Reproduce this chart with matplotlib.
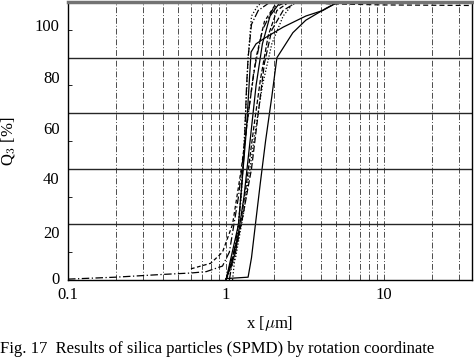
import matplotlib
matplotlib.use("Agg")
import matplotlib.pyplot as plt
import numpy as np

plt.rcParams["font.family"] = ["Liberation Serif", "DejaVu Serif"]
plt.rcParams["mathtext.fontset"] = "cm"

# particle size x [um] and cumulative Q3 [%] for each measured sample
x1 = [1.0, 1.15, 1.3, 1.42, 1.55, 1.7, 1.9, 2.2]
q1 = [0, 10, 30, 50, 70, 85, 95, 100]
x2 = [1.0, 1.2, 1.35, 1.5, 1.65, 1.85, 2.1, 2.5]
q2 = [0, 15, 35, 55, 72, 88, 97, 100]
x3 = [1.05, 1.2, 1.3, 1.35, 1.38, 1.45, 1.6, 1.9]
q3 = [0, 20, 45, 70, 80, 92, 97, 100]
x4 = [1.1, 1.25, 1.33, 1.38, 1.45, 1.6, 1.8]
q4 = [0, 30, 60, 80, 95, 99, 100]
x5 = [1.0, 1.2, 1.35, 1.44, 1.55, 1.75, 2.3, 3.2, 4.1, 5.1]
q5 = [0, 20, 55, 82, 85, 87, 91, 95, 97, 100]
x6 = [1.0, 1.38, 1.45, 1.55, 1.65, 1.78, 1.95, 2.1, 2.65, 3.2, 4.3, 5.1]
q6 = [0.5, 1, 8, 22, 35, 50, 66, 80, 89, 93.5, 97.8, 100]
x7 = [1.0, 1.25, 1.45, 1.6, 1.75, 1.95, 2.3, 2.8]
q7 = [0, 20, 40, 60, 78, 90, 97, 100]
x8 = [0.1, 0.2, 0.4, 0.6, 0.75, 0.95, 1.05, 1.2, 1.35, 1.5, 1.7, 2.0, 2.4]
q8 = [0.3, 1, 2, 2.5, 3, 5, 10, 30, 55, 75, 90, 98, 100]
x9 = [0.6, 0.8, 0.95, 1.1, 1.25, 1.4, 1.55, 1.75, 2.1]
q9 = [4, 6, 10, 20, 40, 62, 80, 93, 100]
x10 = [1.0, 1.15, 1.3, 1.5, 1.7, 1.95, 2.3, 2.7]
q10 = [0, 8, 25, 50, 70, 85, 95, 100]
x11 = [3.0, 4.5, 10, 20, 36]
q11 = [100, 99.4, 99.0, 98.9, 98.8]

series = [(x1, q1, "-"), (x2, q2, "--"), (x3, q3, "-."), (x4, q4, ":"),
          (x5, q5, "-"), (x6, q6, "-"), (x7, q7, (0, (5, 2))),
          (x8, q8, (0, (6, 2, 1, 2))), (x9, q9, (0, (3, 2))),
          (x10, q10, (0, (1, 1.5))), (x11, q11, (0, (4, 2.5)))]

ytick_vals = [0, 20, 40, 60, 80, 100]
ytick_pos = [0.7, 17.3, 36.7, 54.7, 73, 91.7]  # where the scan shows the labels

fig = plt.figure(figsize=(4.74, 3.58), dpi=100)
ax = fig.add_axes([0.1435, 0.218, 0.852, 0.776])

for xs, qs, ls in series:
    ax.plot(xs, qs, color="black", lw=0.9, linestyle=ls)

ax.set_xscale("log")
ax.set_xlim(0.1, 36)
ax.set_ylim(0, 100)

# vertical grid (broken in the scan), solid horizontal grid
ax.grid(True, which="both", axis="x", color="0.3", lw=0.7,
        linestyle=(0, (6, 2, 1, 2)))
for g in [20, 40, 60, 80]:
    ax.axhline(g, color="0.15", lw=1.0)

ax.set_xticks([0.1, 1, 10])
ax.set_xticklabels(["0.1", "1", "10"])
ax.tick_params(axis="x", which="both", length=0, labelsize=12, pad=5)
ax.set_yticks(ytick_pos)
ax.set_yticklabels([str(v) for v in ytick_vals])
ax.set_yticks([10, 30, 50, 70, 90], minor=True)
ax.tick_params(axis="y", which="major", length=0, labelsize=12, pad=6)
ax.tick_params(axis="y", which="minor", length=3, direction="in")

for s in ax.spines.values():
    s.set_linewidth(1.0)
ax.spines["top"].set_linewidth(2.5)
ax.spines["top"].set_color("0.45")

ax.set_xlabel(r"x [$\mu$m]", fontsize=12, labelpad=8)
ax.set_ylabel(r"Q$_3$ [%]", fontsize=12, labelpad=12)

fig.text(0.0, 0.004, "Fig. 17  Results of silica particles (SPMD) by rotation coordinate",
         fontsize=12, va="bottom", ha="left")

fig.savefig("out.png", dpi=100)
